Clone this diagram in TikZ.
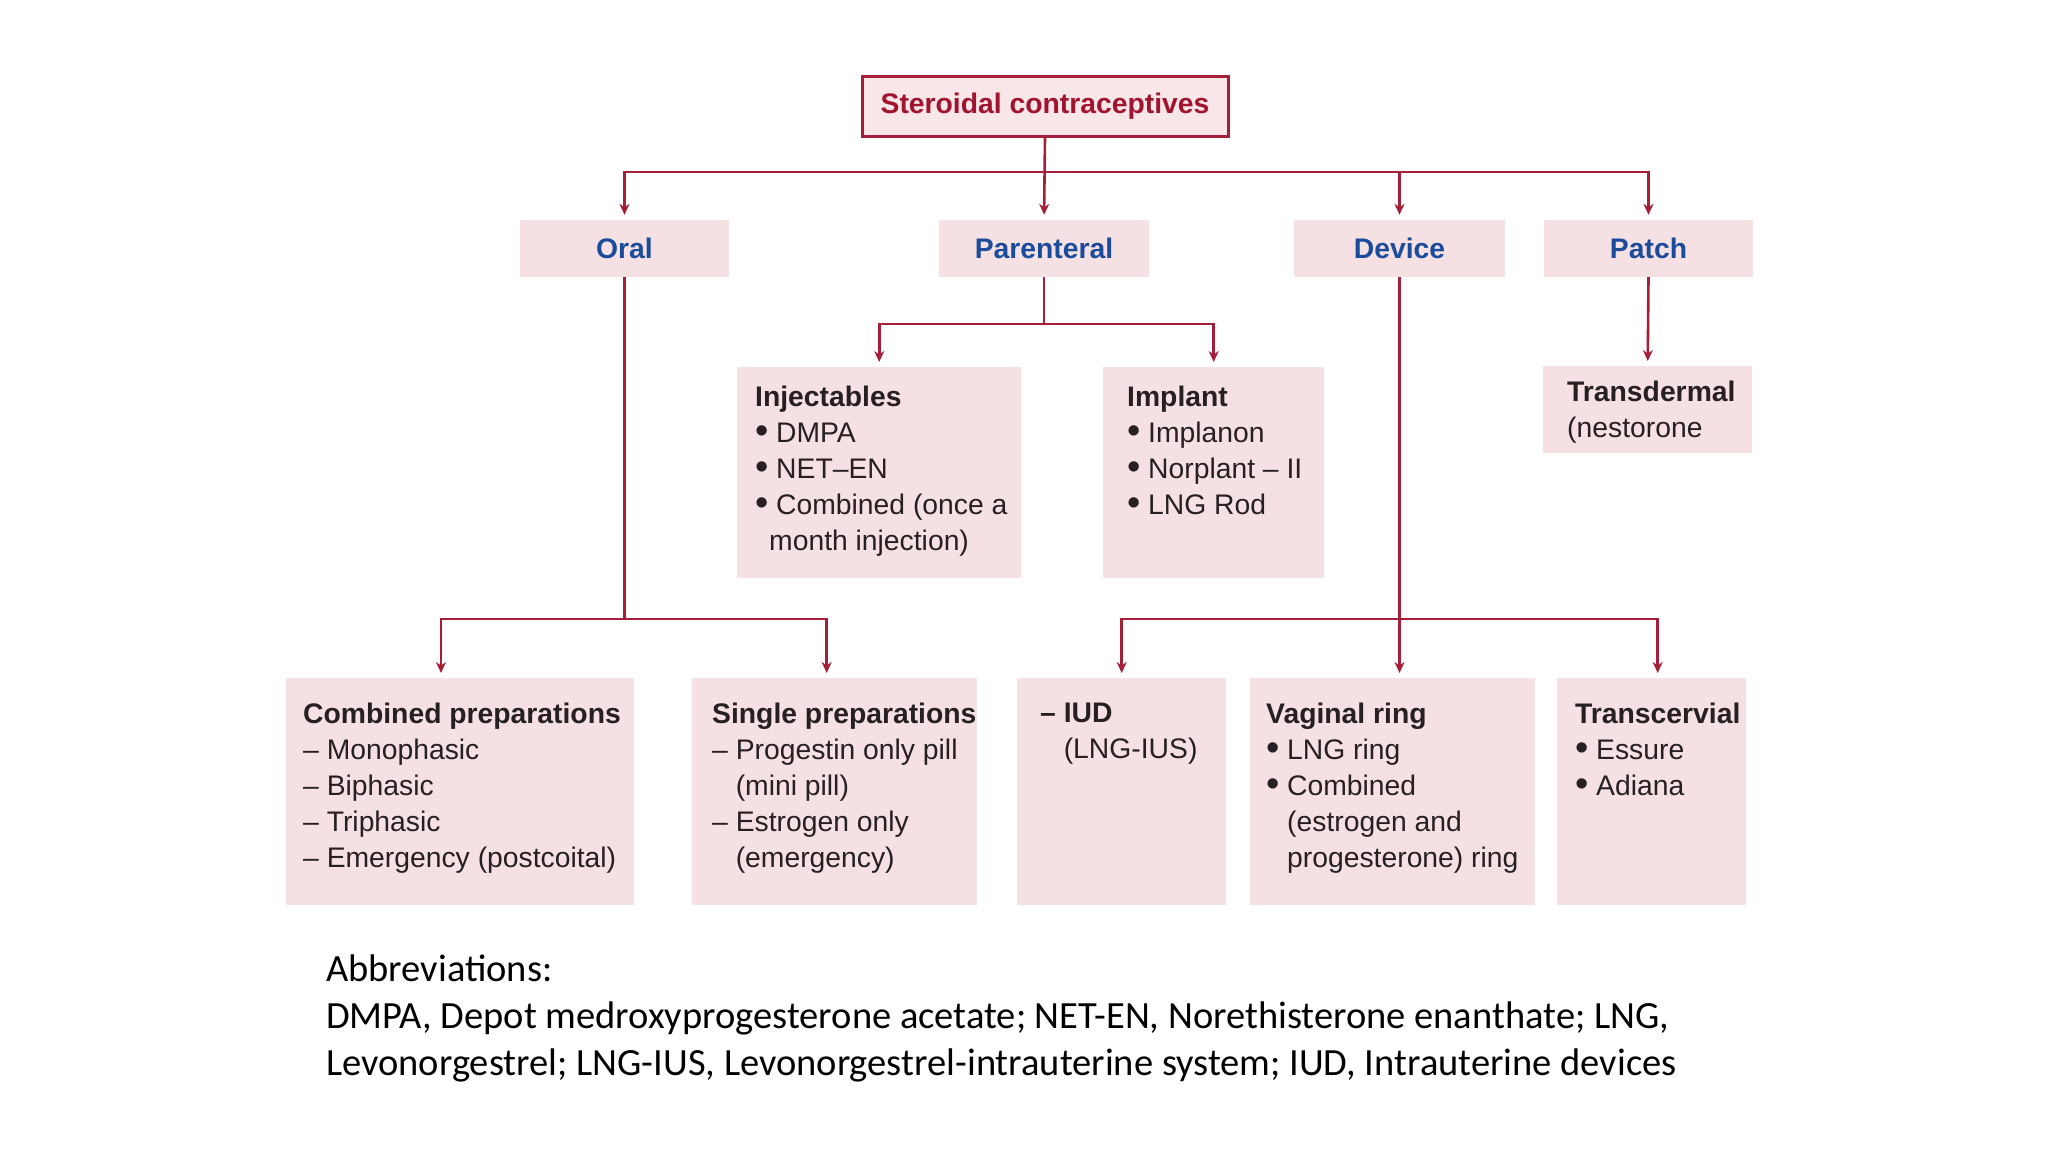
\documentclass[tikz,border=0pt]{standalone}
\usepackage{fontspec}
\setmainfont{Liberation Sans}
\newfontfamily\abbrfont{Carlito}
\usetikzlibrary{arrows.meta}
\definecolor{conn}{HTML}{A51E3A}
\definecolor{boxfill}{HTML}{F5E1E3}
\definecolor{topfill}{HTML}{F8E6E8}
\definecolor{toptext}{HTML}{A0142E}
\definecolor{catblue}{HTML}{1B4B9B}
\definecolor{bodytext}{HTML}{262022}
\newcommand\bul{\makebox[21pt][l]{\raisebox{-1pt}{\fontsize{38}{36}\selectfont •}}}
\begin{document}
\begin{tikzpicture}[x=1pt,y=-1pt,
  box/.style={fill=boxfill, draw=none, inner sep=0pt, anchor=north west},
  txt/.style={anchor=north west, inner sep=0pt, align=left, text=bodytext, font=\fontsize{28.3}{36}\selectfont},
  cat/.style={fill=boxfill, draw=none, inner sep=0pt, anchor=center, minimum height=57pt, text=catblue, font=\bfseries\fontsize{28.3}{34}\selectfont},
  line/.style={draw=conn, line width=2.6pt},
  arr/.style={line, -{Stealth[length=11pt,width=10pt]}, shorten >=5pt}]
\useasboundingbox (0,0) rectangle (2048,1152);
\fill[white] (0,0) rectangle (2048,1152);

% top
\node[draw=conn, line width=3pt, fill=topfill, minimum width=366pt, minimum height=60pt, inner sep=0pt,
      text=toptext, font=\bfseries\fontsize{28.3}{34}\selectfont] (top) at (1045,106) {Steroidal contraceptives};

% categories
\node[cat, minimum width=209pt] (oral) at (624.5,248.5) {Oral};
\node[cat, minimum width=210pt] (par) at (1044,248.5) {Parenteral};
\node[cat, minimum width=211pt] (dev) at (1399.5,248.5) {Device};
\node[cat, minimum width=209pt] (patch) at (1648.5,248.5) {Patch};

% boxes
\node[box, minimum width=284pt, minimum height=211pt] (inj) at (737,367) {};
\node[box, minimum width=221pt, minimum height=211pt] (imp) at (1103,367) {};
\node[box, minimum width=209pt, minimum height=87pt] (trd) at (1543,366) {};
\node[box, minimum width=348pt, minimum height=227pt] (comb) at (286,678) {};
\node[box, minimum width=285pt, minimum height=227pt] (single) at (692,678) {};
\node[box, minimum width=209pt, minimum height=227pt] (iud) at (1017,678) {};
\node[box, minimum width=285pt, minimum height=227pt] (vag) at (1250,678) {};
\node[box, minimum width=189pt, minimum height=227pt] (tc) at (1557,678) {};

% texts
\node[txt] (injt) at (755,386) {\textbf{Injectables}\\ \bul DMPA\\ \bul NET–EN\\ \bul Combined (once a\\ \hspace*{14pt}month injection)};
\node[txt] (impt) at (1127,386) {\textbf{Implant}\\ \bul Implanon\\ \bul Norplant – II\\ \bul LNG Rod};
\node[txt] (trdt) at (1567,381) {\textbf{Transdermal}\\ (nestorone};
\node[txt] (combt) at (303,703) {\textbf{Combined preparations}\\ – Monophasic\\ – Biphasic\\ – Triphasic\\ – Emergency (postcoital)};
\node[txt] (singlet) at (712,703) {\textbf{Single preparations}\\ – Progestin only pill\\ \phantom{– }(mini pill)\\ – Estrogen only\\ \phantom{– }(emergency)};
\node[txt] (iudt) at (1040,703) {\textbf{– IUD}\\ \phantom{– }(LNG-IUS)};
\node[txt] (vagt) at (1266,703) {\textbf{Vaginal ring}\\ \bul LNG ring\\ \bul Combined\\ \hspace*{21pt}(estrogen and\\ \hspace*{21pt}progesterone) ring};
\node[txt] (tct) at (1575,703) {\textbf{Transcervial}\\ \bul Essure\\ \bul Adiana};

% abbreviations
\node[anchor=north west, inner sep=0pt, align=left, text=black, font=\abbrfont\fontsize{38.5}{47}\selectfont] (abbr) at (326,955)
  {Abbreviations:\\ DMPA, Depot medroxyprogesterone acetate; NET-EN, Norethisterone enanthate; LNG,\\ Levonorgestrel; LNG-IUS, Levonorgestrel-intrauterine system; IUD, Intrauterine devices};

% connectors
\coordinate (b1) at (1045,172);
\draw[line] (top.south) -- (b1);
\draw[arr] (b1) -| (oral.north);
\draw[arr] (top.south) -- (par.north);
\draw[arr] (b1) -| (dev.north);
\draw[arr] (b1) -| (patch.north);

\coordinate (b2) at (1044,324);
\draw[line] (par.south) -- (b2);
\draw[arr] (b2) -| (inj.north);
\draw[arr] (b2) -| (imp.north);

\draw[arr] (patch.south) -- (trd.north);

\coordinate (b3) at (624.5,619);
\draw[line] (oral.south) -- (b3);
\draw[arr] (b3) -| ([xshift=155pt]comb.north west);
\draw[arr] (b3) -| ([xshift=-8pt]single.north);

\coordinate (b4) at (1399.5,619);
\draw[arr] (dev.south) -- (dev.south |- vag.north);
\draw[arr] (b4) -| (iud.north);
\draw[arr] (b4) -| ([xshift=6pt]tc.north);
\end{tikzpicture}
\end{document}
